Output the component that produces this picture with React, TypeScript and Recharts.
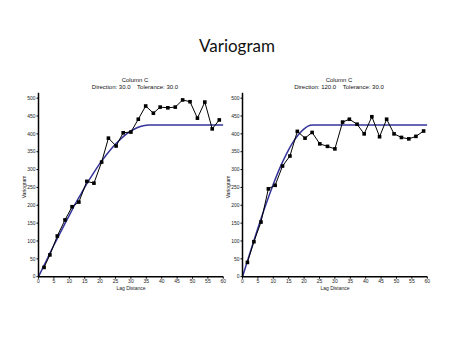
import React from 'react';
import { LineChart, Line, XAxis, YAxis } from 'recharts';

const xTicks = [0, 5, 10, 15, 20, 25, 30, 35, 40, 45, 50, 55, 60];
const yTicks = [0, 50, 100, 150, 200, 250, 300, 350, 400, 450, 500];

// Left panel: Direction 30.0
const lagLeft = [1.8, 3.7, 6.1, 8.6, 10.9, 13.1, 15.7, 18, 20.5, 22.7, 25.2, 27.5, 30, 32.4, 34.8, 37.3, 39.5, 42, 44.4, 46.8, 49.2, 51.6, 54, 56.4, 58.7];
const gammaLeft = [26, 61, 114, 159, 196, 209, 267, 262, 321, 388, 366, 403, 405, 441, 478, 458, 475, 473, 475, 495, 490, 444, 489, 414, 439];
const modelLagLeft = [0, 2, 4, 6, 8, 10, 12, 14, 16, 18, 20, 22, 24, 26, 28, 30, 32, 34, 36, 60];
const modelLeft = [0, 35, 71, 105, 139, 172, 205, 235, 265, 292, 318, 341, 362, 380, 396, 408, 417, 423, 425, 425];

// Right panel: Direction 120.0
const lagRight = [1.6, 3.7, 6, 8.4, 10.6, 13, 15.4, 17.8, 20.3, 22.6, 25.1, 27.6, 30, 32.5, 34.7, 37.2, 39.5, 42, 44.5, 46.8, 49.2, 51.6, 54, 56.3, 58.8];
const gammaRight = [40, 98, 153, 246, 256, 310, 338, 407, 388, 404, 372, 365, 358, 433, 441, 427, 400, 448, 392, 441, 400, 390, 386, 393, 408];
const modelLagRight = [0, 2, 4, 6, 8, 10, 12, 14, 16, 18, 20, 22, 23, 60];
const modelRight = [0, 55, 109, 162, 212, 259, 302, 339, 371, 396, 414, 424, 425, 425];

const toRows = (xs: number[], ys: number[]) => xs.map((x, i) => ({ lag: x, v: ys[i] }));

const SquareDot = (props: any) => {
  const { cx, cy, index } = props;
  if (cx == null || cy == null) return <g key={index} />;
  return <rect key={index} x={cx - 1.8} y={cy - 1.8} width={3.6} height={3.6} fill="#000" />;
};

const tickStyle = { fontSize: 5, fill: '#222', fontFamily: 'Liberation Sans, Arial, sans-serif' };

function Panel({ left, direction, lags, gammas, mLags, model }: any) {
  return (
    <div style={{ position: 'absolute', left, top: 60, width: 235, height: 250 }}>
      <div style={{ position: 'absolute', left: 0, width: 270, top: 17, textAlign: 'center', fontFamily: 'Liberation Sans, Arial, sans-serif', fontSize: 6, lineHeight: '7px', color: '#111' }}>
        <div>Column C</div>
        <div style={{ whiteSpace: 'pre' }}>{`Direction: ${direction}    Tolerance: 30.0`}</div>
      </div>
      <LineChart width={235} height={250} margin={{ top: 32.8, right: 11.7, bottom: 18.3, left: 18.5 }}>
        <XAxis
          type="number"
          dataKey="lag"
          domain={[0, 60]}
          ticks={xTicks}
          interval={0}
          allowDataOverflow
          height={15}
          tick={tickStyle}
          tickSize={2}
          tickMargin={1}
          axisLine={{ stroke: '#000', strokeWidth: 1.5 }}
          tickLine={{ stroke: '#000' }}
        />
        <YAxis
          type="number"
          domain={[0, 515]}
          ticks={yTicks}
          interval={0}
          allowDataOverflow
          width={20}
          tick={tickStyle}
          tickSize={2}
          tickMargin={1}
          axisLine={{ stroke: '#000', strokeWidth: 1.5 }}
          tickLine={{ stroke: '#000' }}
        />
        <Line data={toRows(mLags, model)} dataKey="v" type="monotone" stroke="#34349a" strokeWidth={1.5} dot={false} isAnimationActive={false} />
        <Line data={toRows(lags, gammas)} dataKey="v" type="linear" stroke="#000" strokeWidth={1} dot={SquareDot} isAnimationActive={false} />
      </LineChart>
      <div style={{ position: 'absolute', left: 0, width: 262, top: 225, textAlign: 'center', fontFamily: 'Liberation Sans, Arial, sans-serif', fontSize: 5, color: '#222' }}>Lag Distance</div>
      <div style={{ position: 'absolute', left: 24, top: 127, width: 0, height: 0 }}>
        <div style={{ position: 'absolute', transform: 'translate(-50%, -50%) rotate(-90deg)', fontFamily: 'Liberation Sans, Arial, sans-serif', fontSize: 5, color: '#222', whiteSpace: 'nowrap' }}>Variogram</div>
      </div>
    </div>
  );
}

export default function App() {
  return (
    <div style={{ position: 'absolute', left: 0, top: 0, width: 474, height: 355, background: '#fff', overflow: 'hidden' }}>
      <div style={{ position: 'absolute', left: 0, width: 474, top: 35, textAlign: 'center', fontFamily: 'Lato, Carlito, sans-serif', fontSize: 17, color: '#111' }}>Variogram</div>
      <Panel left={0} direction="30.0" lags={lagLeft} gammas={gammaLeft} mLags={modelLagLeft} model={modelLeft} />
      <Panel left={204} direction="120.0" lags={lagRight} gammas={gammaRight} mLags={modelLagRight} model={modelRight} />
    </div>
  );
}
